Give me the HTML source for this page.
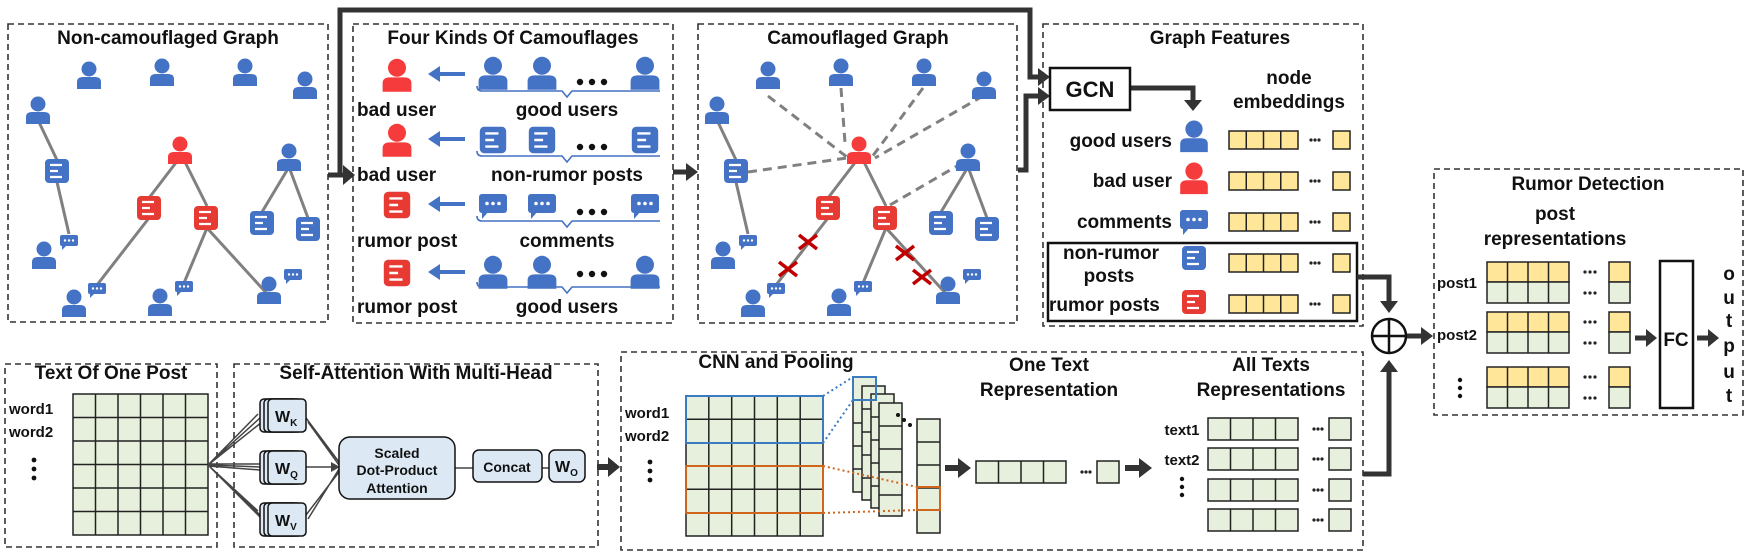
<!DOCTYPE html>
<html><head><meta charset="utf-8"><style>
html,body{margin:0;padding:0;background:#fff;}
svg{display:block;}
text{font-family:"Liberation Sans",sans-serif;font-weight:bold;fill:#111;}
</style></head><body>
<svg width="1755" height="554" viewBox="0 0 1755 554" xmlns="http://www.w3.org/2000/svg">
<defs>
<g id="ub"><circle cx="0" cy="-6" r="7.5" fill="#4472c4"/><path d="M-12 14 L-12 7 Q-12 2 -6 2 L6 2 Q12 2 12 7 L12 14 Z" fill="#4472c4"/></g>
<g id="ur"><circle cx="0" cy="-6" r="7.5" fill="#f53b3b"/><path d="M-12 14 L-12 7 Q-12 2 -6 2 L6 2 Q12 2 12 7 L12 14 Z" fill="#f53b3b"/></g>
<g id="db"><rect x="-12" y="-12" width="24" height="24" rx="4" fill="#4472c4"/><path d="M-7 -6 H5 M-7 0 H1 M-7 6 H5" stroke="#fff" stroke-width="2.2"/></g>
<g id="dr"><rect x="-12" y="-12" width="24" height="24" rx="4" fill="#e63a32"/><path d="M-7 -6 H5 M-7 0 H1 M-7 6 H5" stroke="#fff" stroke-width="2.2"/></g>
<g id="cb"><rect x="-9" y="-6" width="18" height="11" rx="2" fill="#4472c4"/><path d="M-7 4 L-7 9 L-2 4 Z" fill="#4472c4"/><circle cx="-4" cy="-0.5" r="1.2" fill="#fff"/><circle cx="0" cy="-0.5" r="1.2" fill="#fff"/><circle cx="4" cy="-0.5" r="1.2" fill="#fff"/></g>
<g id="cbig"><rect x="-14" y="-11" width="28" height="19" rx="3" fill="#4472c4"/><path d="M-11 6 L-11 14 L-4 6 Z" fill="#4472c4"/><circle cx="-6" cy="-1.5" r="1.8" fill="#fff"/><circle cx="0" cy="-1.5" r="1.8" fill="#fff"/><circle cx="6" cy="-1.5" r="1.8" fill="#fff"/></g>
<g id="x"><path d="M-9 -7 L9 7 M-9 7 L9 -7" stroke="#c00000" stroke-width="3.5"/></g>
<g id="emb"><rect x="0" y="0" width="69" height="18" fill="#ffe699" stroke="#222" stroke-width="1.5"/><path d="M17.25 0V18M34.5 0V18M51.75 0V18" stroke="#222" stroke-width="1.5"/><circle cx="82" cy="9" r="1.6" fill="#222"/><circle cx="86" cy="9" r="1.6" fill="#222"/><circle cx="90" cy="9" r="1.6" fill="#222"/><rect x="104" y="0" width="17" height="18" fill="#ffe699" stroke="#222" stroke-width="1.5"/></g>
<g id="rp"><rect x="0" y="0" width="82" height="20" fill="#ffe699" stroke="#222" stroke-width="1.5"/><rect x="0" y="20" width="82" height="21" fill="#e6f0dc" stroke="#222" stroke-width="1.5"/><path d="M20.5 0V41M41 0V41M61.5 0V41" stroke="#222" stroke-width="1.5"/><g fill="#222"><circle cx="98" cy="10" r="1.6"/><circle cx="103" cy="10" r="1.6"/><circle cx="108" cy="10" r="1.6"/><circle cx="98" cy="31" r="1.6"/><circle cx="103" cy="31" r="1.6"/><circle cx="108" cy="31" r="1.6"/></g><rect x="122" y="0" width="21" height="20" fill="#ffe699" stroke="#222" stroke-width="1.5"/><rect x="122" y="20" width="21" height="21" fill="#e6f0dc" stroke="#222" stroke-width="1.5"/></g>
<g id="tr"><rect x="0" y="0" width="90" height="22" fill="#e6f0dc" stroke="#222" stroke-width="1.5"/><path d="M22.5 0V22M45 0V22M67.5 0V22" stroke="#222" stroke-width="1.5"/><g fill="#222"><circle cx="106" cy="11" r="1.6"/><circle cx="110" cy="11" r="1.6"/><circle cx="114" cy="11" r="1.6"/></g><rect x="121" y="0" width="22" height="22" fill="#e6f0dc" stroke="#222" stroke-width="1.5"/></g>
<g id="graph">
 <g stroke="#808080" stroke-width="3" fill="none">
  <path d="M38 120 L57 160 M57 182 L69 234 M178 160 L149 198 M149 218 L97 285 M184 160 L207 206 M207 228 L184 283 M207 228 L270 297 M289 167 L262 212 M289 167 L308 218"/>
 </g>
 <use href="#ub" x="89" y="75"/><use href="#ub" x="162" y="72"/><use href="#ub" x="245" y="72"/><use href="#ub" x="305" y="85"/>
 <use href="#ub" x="38" y="110"/><use href="#db" x="57" y="171"/><use href="#cb" x="69" y="241"/><use href="#ub" x="44" y="255"/>
 <use href="#ub" x="74" y="303"/><use href="#cb" x="97" y="289"/>
 <use href="#ur" x="180" y="150"/><use href="#dr" x="149" y="208"/><use href="#dr" x="206" y="218"/>
 <use href="#ub" x="160" y="302"/><use href="#cb" x="184" y="287"/>
 <use href="#ub" x="269" y="290"/><use href="#cb" x="293" y="275"/>
 <use href="#ub" x="289" y="157"/><use href="#db" x="262" y="223"/><use href="#db" x="308" y="229"/>
</g>
</defs>

<g fill="none" stroke="#333" stroke-width="1.6" stroke-dasharray="6,4">
<rect x="8" y="24" width="320" height="298"/>
<rect x="353" y="24" width="320" height="299"/>
<rect x="698" y="24" width="319" height="299"/>
<rect x="1043" y="24" width="320" height="302"/>
<rect x="1434" y="169" width="309" height="246"/>
<rect x="5" y="364" width="212" height="183"/>
<rect x="234" y="364" width="364" height="183"/>
<rect x="621" y="352" width="742" height="198"/>
</g>

<g font-size="19" text-anchor="middle">
<text x="168" y="44">Non-camouflaged Graph</text>
<text x="513" y="44">Four Kinds Of Camouflages</text>
<text x="858" y="44">Camouflaged Graph</text>
<text x="1220" y="44">Graph Features</text>
<text x="1588" y="190">Rumor Detection</text>
<text x="111" y="379">Text  Of One Post</text>
<text x="416" y="379">Self-Attention With Multi-Head</text>
<text x="776" y="368">CNN and Pooling</text>
<text x="1049" y="371">One Text</text>
<text x="1049" y="396">Representation</text>
<text x="1271" y="371">All Texts</text>
<text x="1271" y="396">Representations</text>
<text x="1289" y="84">node</text>
<text x="1289" y="108">embeddings</text>
<text x="1555" y="220">post</text>
<text x="1555" y="245">representations</text>
</g>

<use href="#graph"/>
<g transform="translate(679,0)">
 <g stroke="#808080" stroke-width="3" fill="none" stroke-dasharray="9,6">
  <path d="M89 96 L168 157 M162 88 L166 143 M244 88 L193 157 M304 96 L196 158 M69 172 L168 158 M211 205 L278 166"/>
 </g>
 <use href="#graph"/>
 <use href="#x" x="129" y="242"/><use href="#x" x="109" y="269"/><use href="#x" x="226" y="253"/><use href="#x" x="243" y="277"/>
</g>

<g>
 <use href="#ur" transform="translate(397,75) scale(1.2)"/>
 <use href="#ur" transform="translate(397,140) scale(1.2)"/>
 <use href="#dr" transform="translate(397,205) scale(1.1)"/>
 <use href="#dr" transform="translate(397,273) scale(1.1)"/>
 <g fill="#4472c4">
  <g id="ba"><rect x="437" y="72" width="28" height="4"/><path d="M428 74 L440 66 L440 82 Z"/></g>
  <use href="#ba" y="65"/><use href="#ba" y="130"/><use href="#ba" y="198"/>
 </g>
 <use href="#ub" transform="translate(493,73) scale(1.2)"/><use href="#ub" transform="translate(542,73) scale(1.2)"/><use href="#ub" transform="translate(645,73) scale(1.2)"/>
 <use href="#db" transform="translate(493,140) scale(1.1)"/><use href="#db" transform="translate(542,140) scale(1.1)"/><use href="#db" transform="translate(645,140) scale(1.1)"/>
 <use href="#cbig" x="493" y="205"/><use href="#cbig" x="542" y="205"/><use href="#cbig" x="645" y="205"/>
 <use href="#ub" transform="translate(493,272) scale(1.2)"/><use href="#ub" transform="translate(542,272) scale(1.2)"/><use href="#ub" transform="translate(645,272) scale(1.2)"/>
 <g fill="#111"><g id="dd"><circle cx="580" cy="82" r="3.2"/><circle cx="592" cy="82" r="3.2"/><circle cx="604" cy="82" r="3.2"/></g>
 <use href="#dd" y="65"/><use href="#dd" y="130"/><use href="#dd" y="192"/></g>
 <g fill="none" stroke="#4472c4" stroke-width="1.6">
  <g id="br"><path d="M477 86 Q477 91 482 91 L562 91 L567 97 L572 91 L660 91"/></g>
  <use href="#br" y="65"/><use href="#br" y="130"/><use href="#br" y="196"/>
 </g>
 <g font-size="19">
  <text x="357" y="116">bad user</text><text x="357" y="181">bad user</text>
  <text x="357" y="247">rumor post</text><text x="357" y="313">rumor post</text>
 </g>
 <g font-size="19" text-anchor="middle">
  <text x="567" y="116">good users</text><text x="567" y="181">non-rumor posts</text>
  <text x="567" y="247">comments</text><text x="567" y="313">good users</text>
 </g>
</g>

<g fill="none" stroke="#333" stroke-width="5">
 <path d="M340 175 L340 10 L1030 10 L1030 77 L1040 77"/>
 <path d="M328 175 L345 175"/>
 <path d="M673 172 L688 172"/>
 <path d="M1018 170 L1026 170 L1026 96 L1040 96"/>
 <path d="M1130 88 L1193 88 L1193 102"/>
</g>
<g fill="#333">
 <path d="M343 165 L355 175 L343 185 Z"/>
 <path d="M686 163 L698 172 L686 181 Z"/>
 <path d="M1038 68 L1050 77 L1038 86 Z"/>
 <path d="M1038 87 L1050 96 L1038 105 Z"/>
 <path d="M1184 100 L1202 100 L1193 111 Z"/>
</g>
<rect x="1050" y="68" width="80" height="42" fill="#fff" stroke="#111" stroke-width="2.5"/>
<text x="1090" y="97" font-size="22" text-anchor="middle">GCN</text>

<g font-size="19" text-anchor="end">
 <text x="1172" y="147">good users</text>
 <text x="1172" y="187">bad user</text>
 <text x="1172" y="228">comments</text>
</g>
<text x="1111" y="259" font-size="19" text-anchor="middle">non-rumor</text>
<text x="1109" y="282" font-size="19" text-anchor="middle">posts</text>
<text x="1049" y="311" font-size="19">rumor posts</text>
<use href="#ub" transform="translate(1194,136) scale(1.15)"/>
<use href="#ur" transform="translate(1194,178) scale(1.15)"/>
<use href="#cbig" x="1194" y="221"/>
<use href="#db" x="1194" y="258"/>
<use href="#dr" x="1194" y="302"/>
<use href="#emb" x="1229" y="131"/><use href="#emb" x="1229" y="172"/><use href="#emb" x="1229" y="213"/><use href="#emb" x="1229" y="254"/><use href="#emb" x="1229" y="295"/>
<rect x="1048" y="243" width="309" height="78" fill="none" stroke="#111" stroke-width="2.5"/>

<g fill="none" stroke="#333" stroke-width="5">
 <path d="M1357 277 L1389 277 L1389 303"/>
 <path d="M1363 474 L1389 474 L1389 370"/>
 <path d="M1407 336 L1422 336"/>
</g>
<g fill="#333">
 <path d="M1380 301 L1398 301 L1389 313 Z"/>
 <path d="M1380 372 L1398 372 L1389 360 Z"/>
 <path d="M1421 327 L1433 336 L1421 345 Z"/>
</g>
<circle cx="1389" cy="336" r="17" fill="#fff" stroke="#111" stroke-width="2.5"/>
<path d="M1372 336 H1406 M1389 319 V353" stroke="#111" stroke-width="2.5"/>

<use href="#rp" x="1487" y="262"/><use href="#rp" x="1487" y="312"/><use href="#rp" x="1487" y="367"/>
<g font-size="15"><text x="1437" y="288">post1</text><text x="1437" y="340">post2</text></g>
<g fill="#111"><circle cx="1460" cy="380" r="2.2"/><circle cx="1460" cy="388" r="2.2"/><circle cx="1460" cy="396" r="2.2"/></g>
<rect x="1660" y="261" width="33" height="147" fill="#fff" stroke="#111" stroke-width="2.5"/>
<text x="1676" y="346" font-size="19" text-anchor="middle">FC</text>
<g fill="none" stroke="#333" stroke-width="5"><path d="M1635 338 L1648 338"/><path d="M1697 338 L1710 338"/></g>
<g fill="#333"><path d="M1646 329 L1657 338 L1646 347 Z"/><path d="M1708 329 L1719 338 L1708 347 Z"/></g>
<g font-size="19" text-anchor="middle">
 <text x="1729" y="280">o</text><text x="1729" y="304">u</text><text x="1729" y="327">t</text><text x="1729" y="352">p</text><text x="1729" y="378">u</text><text x="1729" y="402">t</text>
</g>

<rect x="73" y="394" width="135" height="141" fill="#e6f0dc" stroke="#222" stroke-width="1.5"/>
<path d="M95.5 394V535M118 394V535M140.5 394V535M163 394V535M185.5 394V535M73 417.5H208M73 441H208M73 464.5H208M73 488H208M73 511.5H208" stroke="#222" stroke-width="1.5"/>
<g font-size="15"><text x="9" y="414">word1</text><text x="9" y="437">word2</text>
<text x="625" y="418">word1</text><text x="625" y="441">word2</text></g>
<g fill="#111"><circle cx="34" cy="460" r="2.4"/><circle cx="34" cy="469" r="2.4"/><circle cx="34" cy="478" r="2.4"/>
<circle cx="650" cy="462" r="2.4"/><circle cx="650" cy="471" r="2.4"/><circle cx="650" cy="480" r="2.4"/></g>

<g stroke="#444" stroke-width="1.5" fill="none">
 <path d="M208 465 L260 418 M208 465 L262 422 M208 465 L258 414 M208 465 L260 467 M208 464 L260 464 M208 466 L260 470 M208 465 L260 515 M208 465 L262 519 M208 465 L258 511"/>
 <path d="M306 418 L339 462 M308 422 L339 465 M306 467 L339 467 M306 515 L339 472 M308 519 L339 469"/>
 <path d="M455 468 L473 468 M542 468 L549 468"/>
</g>
<g fill="#444"><path d="M331 462 L340 467 L331 472 Z"/></g>
<g fill="#dce9f5" stroke="#111" stroke-width="1.5">
 <rect x="260" y="399" width="38" height="33" rx="4"/><rect x="264" y="399" width="38" height="33" rx="4"/><rect x="268" y="399" width="38" height="33" rx="4"/>
 <rect x="260" y="451" width="38" height="33" rx="4"/><rect x="264" y="451" width="38" height="33" rx="4"/><rect x="268" y="451" width="38" height="33" rx="4"/>
 <rect x="260" y="503" width="38" height="33" rx="4"/><rect x="264" y="503" width="38" height="33" rx="4"/><rect x="268" y="503" width="38" height="33" rx="4"/>
 <rect x="339" y="437" width="116" height="62" rx="11"/>
 <rect x="473" y="450" width="69" height="32" rx="6"/>
 <rect x="549" y="450" width="36" height="32" rx="6"/>
</g>
<g font-size="16"><text x="275" y="422">W<tspan font-size="10" dy="4">K</tspan></text>
<text x="275" y="474">W<tspan font-size="10" dy="4">Q</tspan></text>
<text x="275" y="526">W<tspan font-size="10" dy="4">V</tspan></text>
<text x="555" y="472">W<tspan font-size="10" dy="4">O</tspan></text></g>
<g font-size="14" text-anchor="middle"><text x="397" y="458">Scaled</text><text x="397" y="475">Dot-Product</text><text x="397" y="493">Attention</text>
<text x="507" y="472">Concat</text></g>
<path d="M597 467 L610 467" stroke="#333" stroke-width="6"/>
<path d="M608 457 L620 467 L608 477 Z" fill="#333"/>

<rect x="686" y="396" width="137" height="140" fill="#e6f0dc" stroke="#222" stroke-width="1.5"/>
<path d="M708.8 396V536M731.7 396V536M754.5 396V536M777.3 396V536M800.2 396V536M686 419.3H823M686 442.7H823M686 466H823M686 489.3H823M686 512.7H823" stroke="#222" stroke-width="1.5"/>
<rect x="686" y="396" width="137" height="47" fill="none" stroke="#3b7bc0" stroke-width="2"/>
<rect x="686" y="466" width="137" height="47" fill="none" stroke="#d0651e" stroke-width="2"/>
<g fill="#e6f0dc" stroke="#222" stroke-width="1.5">
 <rect x="853" y="377" width="23" height="115"/><path d="M853 400H876M853 423H876M853 446H876M853 469H876"/>
 <rect x="862" y="386" width="23" height="114"/><path d="M862 409H885M862 432H885M862 455H885M862 478H885"/>
 <rect x="871" y="394" width="23" height="114"/><path d="M871 417H894M871 440H894M871 463H894M871 486H894"/>
 <rect x="879" y="403" width="23" height="113"/><path d="M879 426H902M879 449H902M879 472H902M879 495H902"/>
 <rect x="917" y="419" width="23" height="114"/><path d="M917 442H940M917 465H940M917 488H940M917 510H940"/>
</g>
<rect x="853" y="377" width="23" height="23" fill="none" stroke="#3b7bc0" stroke-width="2"/>
<rect x="917" y="487" width="23" height="23" fill="none" stroke="#d0651e" stroke-width="2"/>
<g fill="#111"><circle cx="898" cy="415" r="2"/><circle cx="904" cy="420" r="2"/><circle cx="910" cy="425" r="2"/></g>
<g fill="none" stroke-width="2" stroke-dasharray="2,3">
 <path d="M823 396 L853 377 M823 443 L853 400" stroke="#3b7bc0"/>
 <path d="M823 466 L917 487 M823 513 L917 510" stroke="#d0651e"/>
</g>
<path d="M945 468 L960 468" stroke="#333" stroke-width="6"/><path d="M958 458 L971 468 L958 478 Z" fill="#333"/>
<use href="#tr" x="976" y="461"/>
<path d="M1125 468 L1141 468" stroke="#333" stroke-width="6"/><path d="M1139 458 L1152 468 L1139 478 Z" fill="#333"/>
<use href="#tr" x="1208" y="418"/><use href="#tr" x="1208" y="448"/><use href="#tr" x="1208" y="479"/><use href="#tr" x="1208" y="509"/>
<g font-size="15" text-anchor="middle"><text x="1182" y="435">text1</text><text x="1182" y="465">text2</text></g>
<g fill="#111"><circle cx="1182" cy="479" r="2.2"/><circle cx="1182" cy="487" r="2.2"/><circle cx="1182" cy="495" r="2.2"/></g>
</svg>
</body></html>
